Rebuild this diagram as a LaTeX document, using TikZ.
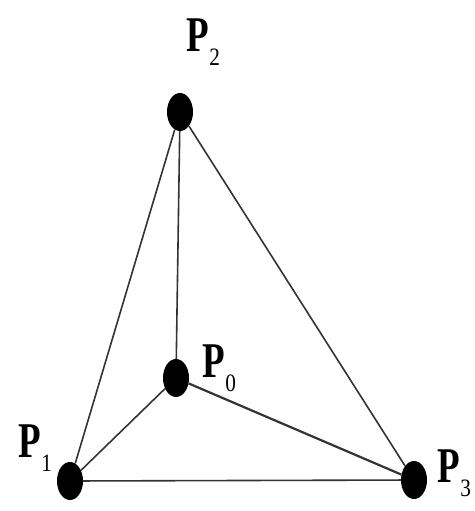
\documentclass[tikz,border=0pt]{standalone}
\usepackage{fontspec}
\setmainfont{Liberation Serif}
\usepackage{graphicx}
\usetikzlibrary{shapes.geometric}

\newcommand{\plab}[1]{\scalebox{0.74}[1]{\fontsize{50}{50}\selectfont\bfseries P}\kern0.5pt\raisebox{-14pt}{\scalebox{0.85}[1]{\fontsize{25}{25}\selectfont #1}}}

\begin{document}
\begin{tikzpicture}
  [x=1pt,y=-1pt]
      \tikzstyle{edge_style} = [draw=black!80, line width=1.6]
      \tikzstyle{dot_style} = [fill=black, ellipse, inner sep=0, minimum width=26, minimum height=38]
  \useasboundingbox (0,0) rectangle (474,511);
  \node[dot_style] (p2) at (180,112) {};
  \node[dot_style] (p0) at (176,378) {};
  \node[dot_style] (p1) at (70,481) {};
  \node[dot_style] (p3) at (414,480) {};
  \node[anchor=base west, inner sep=0] (l2) at (186,52) {\plab{2}};
  \node[anchor=base west, inner sep=0] (l0) at (202,377) {\plab{0}};
  \node[anchor=base west, inner sep=0] (l1) at (18,457) {\plab{1}};
  \node[anchor=base west, inner sep=0] (l3) at (437,482) {\plab{3}};
  \draw[edge_style] (p2) -- (p1);
  \draw[edge_style] (p2) -- (p0);
  \draw[edge_style] (p2) -- (p3);
  \draw[edge_style] (p0) -- (p1);
  \draw[edge_style, line width=2.2] (p0) -- (p3);
  \draw[edge_style] (p1) -- (p3);
\end{tikzpicture}
\end{document}
